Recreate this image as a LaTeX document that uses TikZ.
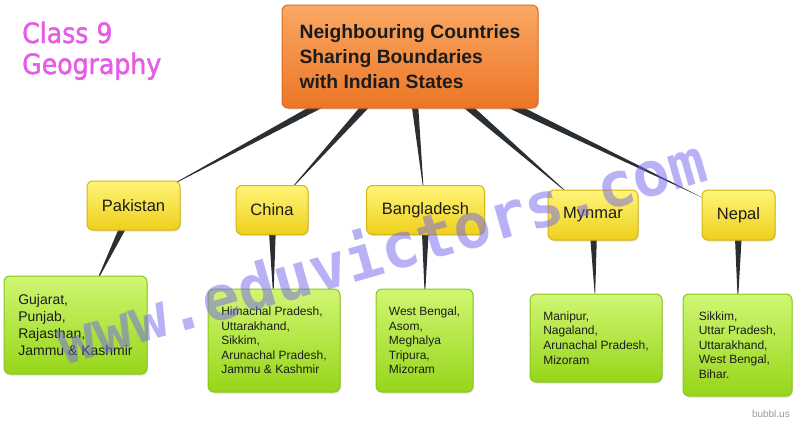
\documentclass[tikz,border=0pt]{standalone}
\usepackage{fontspec}
\setmainfont{Liberation Sans}
\newfontfamily\wmfont{DejaVu Sans Mono Bold}
\newfontfamily\titfont[FakeBold=1.6]{DejaVu Sans Condensed}
\usetikzlibrary{calc,shadows}
\definecolor{orTop}{RGB}{250,168,100}
\definecolor{orBot}{RGB}{236,118,38}
\definecolor{orLine}{RGB}{222,108,38}
\definecolor{yeTop}{RGB}{255,244,120}
\definecolor{yeBot}{RGB}{238,208,28}
\definecolor{yeLine}{RGB}{212,182,20}
\definecolor{grTop}{RGB}{208,246,115}
\definecolor{grBot}{RGB}{150,214,25}
\definecolor{grLine}{RGB}{138,198,28}
\definecolor{linkcol}{RGB}{42,47,52}
\definecolor{txtcol}{RGB}{28,28,28}
\definecolor{wmcol}{RGB}{115,100,238}
\definecolor{titcol}{RGB}{230,92,230}
\pgfdeclarelayer{bg}
\pgfsetlayers{bg,main}
\newcommand\mywedge[4]{\fill[linkcol] ($(#1)!#3!90:(#2)$) -- ($(#1)!#3!-90:(#2)$) -- ($(#1)!#4!(#2)$) -- cycle;}
\tikzset{
  boxbase/.style={rounded corners=6pt, line width=1pt, text=txtcol, align=left, inner sep=0pt,
    drop shadow={opacity=0.22, shadow xshift=0.8pt, shadow yshift=-1.5pt}},
  rootbox/.style={boxbase, top color=orTop, bottom color=orBot, draw=orLine,
    font={\fontsize{19.3}{25}\selectfont\bfseries}},
  countrybox/.style={boxbase, top color=yeTop, bottom color=yeBot, draw=yeLine,
    font={\fontsize{16.5}{20}\selectfont}},
  statebox/.style={boxbase, top color=grTop, bottom color=grBot, draw=grLine,
    font={\fontsize{12}{14.6}\selectfont}},
  wmtext/.style={font={\wmfont\fontsize{62}{62}\selectfont}, text=wmcol, text opacity=0.5, inner sep=0pt},
  tittext/.style={font={\titfont\fontsize{28}{31}\selectfont}, text=titcol, inner sep=0pt, anchor=base west}
}
\begin{document}
\begin{tikzpicture}[x=1pt,y=-1pt]
\useasboundingbox (0,0) rectangle (800,429);
% title
\node[tittext] (cls) at (22,43) {Class 9};
\node[tittext] (geo) at (22,74) {Geography};
% root
\node[rootbox, minimum width=256pt, minimum height=103pt] (root) at (410,56.5)
  {Neighbouring Countries\\Sharing Boundaries\\with Indian States};
% countries
\node[countrybox, minimum width=93pt, minimum height=49pt] (pak) at (133.5,205.5) {Pakistan};
\node[countrybox, minimum width=72pt, minimum height=49pt] (chn) at (272,210) {China};
\node[countrybox, minimum width=118pt, minimum height=49pt] (ban) at (425.5,210) {Bangladesh};
\node[countrybox, minimum width=90pt, minimum height=50pt] (mya) at (593,215) {Mynmar};
\node[countrybox, minimum width=73pt, minimum height=50pt] (nep) at (738.5,215) {Nepal};
% states
\node[statebox, minimum width=143pt, minimum height=98pt, font={\fontsize{14}{17}\selectfont}] (spak) at (75.5,325)
  {Gujarat,\\Punjab,\\Rajasthan,\\Jammu \& Kashmir};
\node[statebox, minimum width=132pt, minimum height=103pt] (schn) at (274,340.5)
  {Himachal Pradesh,\\Uttarakhand,\\Sikkim,\\Arunachal Pradesh,\\Jammu \& Kashmir};
\node[statebox, minimum width=97pt, minimum height=103pt] (sban) at (424.5,340.5)
  {West Bengal,\\Asom,\\Meghalya\\Tripura,\\Mizoram};
\node[statebox, minimum width=132pt, minimum height=88pt] (smya) at (596,338)
  {Manipur,\\Nagaland,\\Arunachal Pradesh,\\Mizoram};
\node[statebox, minimum width=109pt, minimum height=102pt] (snep) at (737.5,345)
  {Sikkim,\\Uttar Pradesh,\\Uttarakhand,\\West Bengal,\\Bihar.};
% connectors
\begin{pgfonlayer}{bg}
\mywedge{root}{pak}{5.5pt}{0.9}
\mywedge{root}{chn}{5.5pt}{0.9}
\mywedge{root}{ban}{5pt}{0.9}
\mywedge{root}{mya}{5.5pt}{0.9}
\mywedge{root}{nep}{5.5pt}{0.9}
\mywedge{pak}{spak}{4.5pt}{0.68}
\mywedge{chn}{schn}{4.5pt}{0.68}
\mywedge{ban}{sban}{4.5pt}{0.68}
\mywedge{mya}{smya}{4.5pt}{0.68}
\mywedge{nep}{snep}{4.5pt}{0.68}
\end{pgfonlayer}
% watermark
\node[wmtext, rotate=16] (wm) at (381,249) {www.eduvictors.com};
\node[anchor=east, inner sep=0pt, font={\fontsize{10}{12}\selectfont}, text=black!40] (bub) at (790,414) {bubbl.us};
\end{tikzpicture}
\end{document}
